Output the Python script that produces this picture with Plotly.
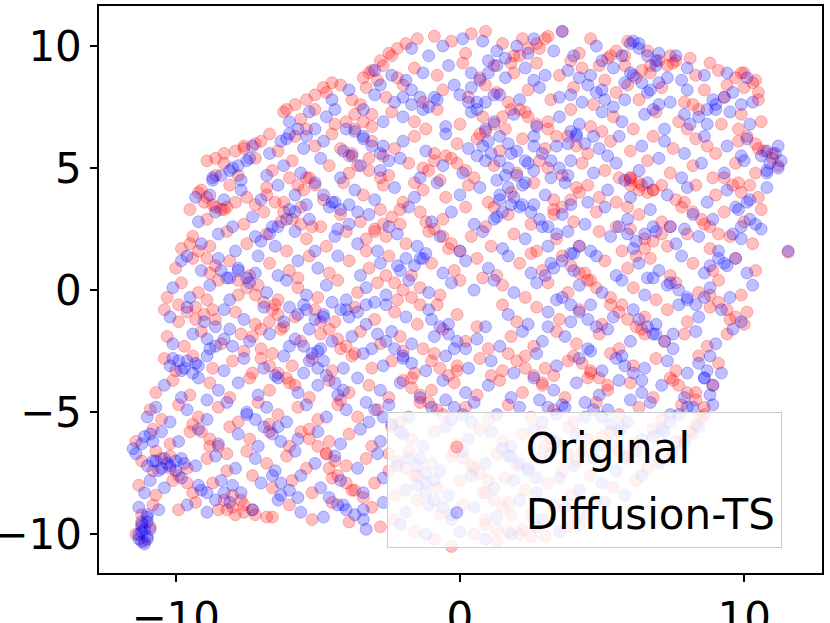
import plotly.graph_objects as go

# t-SNE embedding points read (approximately) from the reference picture
orig_points = [
    (-1.9,10.1),(-1.5,10.3),(-0.9,10.4),(-0.3,10.2),(0.4,10.5),(0.9,10.6),(1.5,10.1),(2.2,10.3),(2.8,9.9),(3.1,10.4),
    (4.6,10.3),(5.9,10.2),(6.6,9.8),(7.4,9.6),(-2.4,9.6),(0.2,9.7),(1.9,9.6),(4.2,9.7),(5.3,9.6),(8.1,9.5),(3.6,10.6),
    (-3.2,8.9),(-2.7,9.2),(-2.2,8.7),(-1.6,9.1),(-0.8,8.8),(0.1,9.3),(0.7,8.7),(1.2,9.2),(1.9,8.9),(2.7,9.3),
    (3.5,8.8),(4.3,9.1),(5.1,8.6),(5.8,9.2),(6.7,8.9),(7.5,9.3),(8.3,8.8),(9.1,9.0),(9.9,8.9),(10.4,8.6),
    (-2.9,8.6),(3.9,9.4),(6.2,8.7),(8.8,9.3),
    (-4.7,8.1),(-4.2,8.4),(-3.8,7.8),(-3.3,8.3),(-2.6,7.9),(-2.0,8.4),(-1.3,7.7),(-0.6,8.2),(0.3,7.9),(0.9,8.4),
    (1.7,7.7),(2.4,8.2),(3.2,7.8),(4.0,8.3),(4.7,7.6),(5.5,8.1),(6.3,7.8),(7.1,8.3),(7.9,7.7),(8.6,8.2),
    (9.3,7.9),(10.0,8.3),(10.5,7.8),(-3.5,7.6),(1.3,8.1),(5.9,8.4),(8.2,7.6),
    (-6.2,7.3),(-5.6,7.0),(-5.1,7.4),(-4.4,6.8),(-3.7,7.2),(-3.1,6.7),(-2.4,7.3),(-1.6,6.9),(-0.8,7.4),(0.0,6.8),
    (0.8,7.1),(1.6,6.6),(2.3,7.3),(3.1,6.9),(3.9,7.4),(4.6,6.7),(5.4,7.1),(6.1,6.6),(6.9,7.3),(7.7,6.9),
    (8.4,7.4),(9.2,6.8),(9.9,7.2),(10.6,6.9),(-5.4,6.6),(-1.2,6.6),(5.0,6.5),(8.0,6.6),
    (-7.6,5.8),(-7.0,6.1),(-6.4,5.7),(-5.8,6.3),(-5.1,5.9),(-4.5,6.4),(-3.8,5.6),(-3.1,6.1),(-2.3,5.8),(-1.6,6.3),
    (-0.9,5.6),(-0.1,6.0),(0.7,6.4),(1.4,5.7),(2.2,6.2),(3.0,5.8),(3.8,6.3),(4.5,5.6),(5.3,6.1),(6.0,5.7),
    (6.8,6.3),(7.5,5.8),(8.3,6.2),(9.0,5.6),(9.8,6.1),(10.5,5.8),(11.0,5.6),(-6.7,6.4),(-2.7,5.5),(4.1,5.9),(8.7,5.9),
    (-8.9,5.3),(-8.3,5.2),(-7.8,4.7),(-7.2,5.4),(-6.6,4.9),(-5.9,5.3),(-5.3,4.6),(-4.6,5.1),(-3.9,4.8),(-3.2,5.4),
    (-2.5,4.7),(-1.8,5.2),(-1.1,4.9),(-0.3,5.4),(0.5,4.6),(1.2,5.1),(2.0,4.8),(2.8,5.3),(3.6,4.7),(4.3,5.2),
    (5.1,4.9),(6.0,4.6),(6.6,5.3),(7.4,4.8),(8.2,5.1),(8.9,4.6),(9.7,5.2),(10.4,4.8),(11.2,5.1),(-8.6,4.7),
    (-0.7,4.5),(3.1,5.0),
    (-9.2,4.0),(-9.0,3.6),(-8.6,3.4),(-8.1,4.3),(-7.5,3.8),(-6.8,4.2),(-6.2,3.6),(-5.5,4.1),(-4.8,3.7),(-4.1,4.4),
    (-3.4,3.9),(-2.7,4.3),(-2.0,3.6),(-1.3,4.1),(-0.5,3.8),(0.3,4.3),(1.0,3.6),(1.8,4.0),(2.6,4.4),(3.3,3.7),
    (4.1,4.2),(4.9,3.8),(6.0,4.5),(6.8,4.1),(7.6,3.7),(8.3,4.3),(9.0,3.9),(9.8,4.4),(10.5,3.8),(-7.9,3.6),
    (-1.6,4.4),(5.5,3.6),(6.3,4.4),
    (-9.5,3.3),(-8.9,2.9),(-8.3,3.3),(-7.6,2.7),(-6.9,3.2),(-6.3,2.8),(-5.6,3.4),(-4.9,2.6),(-4.2,3.1),(-3.5,2.8),
    (-2.8,3.3),(-2.1,2.7),(-1.4,3.2),(-0.6,2.9),(0.2,3.4),(0.9,2.6),(1.7,3.1),(2.5,2.7),(3.3,3.3),(4.0,2.8),
    (4.8,3.2),(5.5,2.6),(6.3,3.1),(7.1,2.8),(7.8,3.4),(8.6,2.7),(9.3,3.2),(10.0,2.8),(10.6,3.3),(-7.2,3.5),
    (1.2,3.4),(5.9,3.4),
    (-9.8,1.7),(-9.4,2.2),(-8.8,1.8),(-8.2,2.4),(-7.5,1.9),(-6.8,2.3),(-6.1,1.6),(-5.4,2.1),(-4.7,1.8),(-4.0,2.4),
    (-3.3,1.6),(-2.6,2.2),(-1.9,1.9),(-1.1,2.4),(-0.4,1.7),(0.4,2.2),(1.1,1.8),(1.9,2.3),(2.7,1.6),(3.4,2.1),
    (4.2,1.8),(4.9,2.4),(5.7,1.6),(6.5,2.1),(7.3,1.8),(8.0,2.3),(8.8,1.7),(9.5,2.2),(10.3,1.9),(11.55,1.55),
    (-3.0,2.5),(6.0,2.5),
    (-10.0,0.9),(-9.4,1.3),(-8.8,0.7),(-8.1,1.2),(-7.4,0.6),(-6.7,1.1),(-6.0,0.8),(-5.3,1.4),(-4.6,0.7),(-3.9,1.2),
    (-3.2,0.9),(-2.5,1.4),(-1.7,0.6),(-1.0,1.1),(-0.2,0.8),(0.6,1.3),(1.3,0.6),(2.1,1.1),(2.9,0.8),(3.6,1.4),
    (4.4,0.7),(5.1,1.2),(5.9,0.9),(6.7,1.3),(7.4,0.6),(8.2,1.1),(8.9,0.8),(9.7,1.3),(10.4,0.8),(-5.7,0.5),(2.5,1.5),
    (-10.3,-0.3),(-9.8,0.3),(-9.2,-0.1),(-8.5,0.4),(-7.8,-0.2),(-7.1,0.2),(-6.4,-0.4),(-5.7,0.1),(-5.0,-0.3),(-4.3,0.4),
    (-3.6,-0.1),(-2.9,0.3),(-2.2,-0.4),(-1.4,0.1),(-0.7,-0.2),(0.0,0.4),(1.5,0.2),(2.3,-0.3),(3.1,0.3),(3.8,-0.1),
    (4.6,0.4),(5.3,-0.3),(6.1,0.1),(6.9,-0.4),(7.6,0.3),(8.4,-0.1),(9.1,0.4),(9.9,-0.2),(-8.9,-0.4),(0.8,0.5),
    (-10.4,-0.8),(-9.9,-1.3),(-9.3,-0.7),(-8.6,-1.2),(-7.9,-0.9),(-7.2,-1.4),(-6.5,-0.6),(-5.8,-1.1),(-5.1,-0.8),(-4.4,-1.3),
    (-3.7,-0.7),(-3.0,-1.2),(-2.3,-0.9),(-1.5,-1.4),(-0.8,-0.6),(-0.1,-1.0),(2.0,-1.3),(2.7,-0.7),(3.5,-1.2),(4.2,-0.8),
    (5.0,-1.4),(5.7,-0.6),(6.5,-1.1),(7.3,-0.8),(8.0,-1.3),(8.8,-0.7),(9.5,-1.2),(10.1,-0.9),(-6.2,-1.5),(1.5,-0.6),
    (-10.3,-1.9),(-9.7,-2.3),(-9.1,-1.7),(-8.4,-2.2),(-7.7,-1.8),(-7.0,-2.4),(-6.3,-1.6),(-5.6,-2.1),(-4.9,-1.8),(-4.2,-2.4),
    (-3.5,-1.7),(-2.8,-2.2),(-2.1,-1.9),(-1.3,-2.4),(-0.6,-1.6),(0.2,-2.1),(1.0,-2.4),(1.8,-1.9),(2.6,-2.3),(3.4,-1.7),
    (4.1,-2.2),(4.9,-1.8),(5.6,-2.4),(6.4,-1.6),(7.2,-2.1),(7.9,-1.8),(8.7,-2.3),(9.4,-1.8),(-2.0,-2.5),(0.6,-1.5),
    (-10.4,-2.8),(-10.0,-3.3),(-9.4,-2.7),(-8.7,-3.2),(-8.0,-2.9),(-7.3,-3.4),(-6.6,-2.6),(-5.9,-3.1),(-5.2,-2.8),(-4.5,-3.3),
    (-3.8,-2.7),(-3.1,-3.2),(-2.4,-2.9),(-1.6,-3.4),(-0.9,-2.6),(-0.1,-3.1),(0.7,-2.8),(1.5,-3.3),(2.3,-2.7),(3.0,-3.2),
    (3.8,-2.9),(4.6,-3.4),(5.3,-2.6),(6.1,-3.1),(6.9,-2.8),(7.6,-3.3),(8.4,-2.7),(9.1,-3.0),(-7.6,-2.5),(1.1,-3.5),
    (-10.7,-4.2),(-10.1,-3.7),(-9.5,-4.3),(-8.8,-3.8),(-8.1,-4.4),(-7.4,-3.6),(-6.7,-4.1),(-6.0,-3.8),(-5.3,-4.4),(-4.6,-3.7),
    (-3.9,-4.2),(-3.2,-3.9),(-2.5,-4.4),(-1.7,-3.6),(-1.0,-4.1),(-0.2,-3.8),(0.6,-4.3),(1.4,-3.7),(2.2,-4.2),(2.9,-3.9),
    (3.7,-4.4),(4.5,-3.6),(5.2,-4.1),(6.0,-3.8),(6.8,-4.4),(7.5,-3.7),(8.3,-4.2),(8.9,-3.9),(-4.2,-4.5),(3.3,-3.5),
    (-10.9,-4.9),(-10.5,-5.3),(-9.9,-4.7),(-9.2,-5.2),(-8.5,-4.8),(-7.8,-5.4),(-7.1,-4.6),(-6.4,-5.1),(-5.7,-4.8),(-5.0,-5.3),
    (-4.3,-4.7),(-3.6,-5.2),(-2.9,-4.9),(-2.1,-5.4),(-1.4,-4.6),(-0.6,-5.1),(0.2,-4.8),(1.0,-5.3),(1.7,-4.7),(2.5,-5.2),
    (3.3,-4.9),(4.0,-5.4),(4.8,-4.6),(5.6,-5.1),(6.3,-4.8),(7.1,-5.3),(7.8,-4.7),(8.6,-5.1),(-6.7,-5.5),
    (-11.4,-6.2),(-10.8,-5.7),(-10.2,-6.3),(-9.5,-5.8),(-8.8,-6.4),(-8.1,-5.6),(-7.4,-6.1),(-6.7,-5.8),(-6.0,-6.4),(-5.3,-5.7),
    (-4.6,-6.2),(-3.9,-5.9),(-3.1,-6.4),(-2.4,-5.6),(-1.7,-6.1),(-0.9,-5.8),(-0.1,-6.3),(0.7,-5.7),(1.5,-6.2),(2.2,-5.9),
    (3.0,-6.4),(3.8,-5.6),(4.5,-6.1),(5.3,-5.8),(6.1,-6.3),(6.8,-5.7),(7.6,-6.2),(8.2,-5.9),
    (-11.2,-7.0),(-10.8,-7.4),(-10.2,-6.8),(-9.6,-7.3),(-8.9,-6.9),(-8.2,-7.4),(-7.5,-6.6),(-6.8,-7.1),(-6.1,-6.8),(-5.4,-7.3),
    (-4.7,-6.7),(-4.0,-7.2),(-3.3,-6.9),(-2.5,-7.4),(-1.8,-6.6),(-1.0,-7.1),(-0.3,-6.8),(0.5,-7.3),(1.3,-6.7),(2.0,-7.2),
    (2.8,-6.9),(3.6,-7.4),(4.3,-6.6),(5.1,-7.1),(5.9,-6.8),(6.6,-7.3),(7.4,-6.9),
    (-11.3,-8.0),(-10.7,-8.4),(-10.1,-7.8),(-9.4,-8.3),(-8.7,-7.9),(-8.0,-8.4),(-7.3,-7.6),(-6.6,-8.1),(-5.9,-7.8),(-5.2,-8.3),
    (-4.5,-7.7),(-3.8,-8.2),(-3.0,-7.9),(-2.3,-8.4),(-1.5,-7.6),(-0.8,-8.1),(0.0,-7.8),(0.8,-8.3),(1.6,-7.7),(2.3,-8.2),
    (3.1,-7.9),(3.9,-8.4),(4.6,-7.6),(5.4,-8.1),(6.2,-7.8),
    (-11.2,-9.2),(-10.8,-8.8),(-9.9,-9.0),(-9.3,-8.7),(-8.5,-9.0),(-7.7,-8.6),(-6.6,-9.3),(-6.0,-8.8),(-5.2,-9.4),(-4.5,-8.7),
    (-3.9,-9.5),(-3.1,-8.9),(-2.3,-9.4),(-1.5,-8.6),(-0.7,-9.2),(0.1,-8.8),(0.9,-9.4),(1.7,-8.7),(2.5,-9.2),(3.3,-8.8),
    (4.1,-9.3),(4.8,-8.6),
    (-11.4,-10.0),(-11.1,-10.3),(-10.9,-9.7),(-11.2,-9.6),(-2.8,-9.7),(-1.6,-9.9),(-0.9,-10.2),(-0.3,-10.5),(0.5,-10.0),(1.3,-10.3),
    (2.2,-9.8),(3.0,-10.1),(3.8,-9.7),(4.2,-9.6),
]

# small worm-like clumps of the Original series
orig_clumps = [
    (-9.1,4.1),(-8.9,3.8),(-8.7,3.5),(-8.4,3.3),(-8.2,3.4),
    (-8.6,5.4),(-8.3,5.6),(-7.9,5.7),(-7.6,5.9),(-7.2,6.0),
    (-6.1,7.4),(-5.8,7.6),(-5.4,7.8),(-5.1,8.0),(-4.8,8.3),(-4.5,8.5),
    (-3.4,8.7),(-3.1,9.0),(-2.8,9.4),(-2.5,9.7),(-2.2,9.9),
    (-6.8,3.9),(-6.5,3.6),(-6.2,3.2),(-5.9,2.9),(-5.6,2.7),(-5.2,2.6),
    (-4.2,5.8),(-3.9,5.5),(-3.6,5.1),(-3.2,4.9),(-2.8,4.6),
    (-1.3,5.0),(-0.9,5.3),(-0.5,5.5),(-0.1,5.2),(0.2,4.9),
    (2.1,7.4),(2.4,7.1),(2.7,6.8),(3.1,6.6),(3.4,6.3),
    (5.6,4.6),(6.0,4.6),(6.4,4.3),(6.8,4.1),(7.1,4.3),
    (7.9,3.6),(8.2,3.2),(8.5,2.9),(8.8,2.6),(9.1,2.3),
    (9.8,6.6),(10.1,6.3),(10.4,6.0),(10.7,5.7),(11.0,5.4),
    (9.4,8.4),(9.7,8.7),(10.0,8.9),(10.3,8.5),(10.5,8.1),
    (-9.9,-0.6),(-9.6,-0.9),(-9.3,-1.2),(-9.0,-1.0),(-8.7,-0.8),
    (-7.0,-2.8),(-6.7,-3.1),(-6.4,-3.4),(-6.1,-3.6),(-5.8,-3.9),
    (-4.9,-1.3),(-4.6,-1.6),(-4.3,-2.0),(-4.0,-2.3),(-3.7,-2.6),
    (-2.0,-3.7),(-1.7,-4.0),(-1.4,-4.3),(-1.1,-4.6),(-0.8,-4.9),
    (1.7,-2.6),(2.0,-2.9),(2.3,-3.2),(2.6,-3.5),(2.9,-3.8),
    (5.3,-0.6),(5.6,-0.9),(5.9,-1.2),(6.2,-1.5),(6.5,-1.8),
    (7.4,-3.6),(7.7,-3.9),(8.0,-4.2),(8.3,-4.5),(8.6,-4.8),
    (-10.7,-6.6),(-10.5,-6.9),(-10.2,-7.3),(-9.9,-7.6),(-9.6,-7.9),
    (-8.3,-8.6),(-8.0,-8.9),(-7.6,-9.1),(-7.2,-9.2),(-6.8,-9.3),
    (-4.6,-7.3),(-4.3,-7.6),(-4.0,-7.9),(-3.7,-8.2),(-3.4,-8.5),
    (-0.2,-6.6),(0.1,-6.9),(0.4,-7.2),(0.7,-7.5),(1.0,-7.8),
    (2.9,-5.8),(3.2,-6.1),(3.5,-6.4),(3.8,-6.7),(4.1,-7.0),
    (0.9,-9.6),(1.3,-9.8),(1.7,-9.9),(2.1,-10.0),(2.5,-10.1),
    (-1.2,2.8),(-0.9,2.5),(-0.6,2.2),(-0.3,1.9),(0.0,1.6),
    (3.3,3.1),(3.6,3.4),(3.9,3.7),(4.2,4.0),(4.5,4.3),
    (-2.6,0.6),(-2.3,0.3),(-2.0,0.0),(-1.7,-0.3),(-1.4,-0.6),
    (1.8,9.3),(2.1,9.6),(2.4,9.9),(2.7,10.1),(3.0,10.3),
    (6.4,9.0),(6.7,9.2),(7.0,9.4),(7.3,9.2),(7.6,9.4),
    (-7.8,0.4),(-7.5,0.1),(-7.2,-0.2),(-6.9,-0.5),(-6.6,-0.8),
    (4.0,-2.7),(4.3,-3.0),(4.6,-3.3),(4.9,-3.6),(5.2,-3.9),
    (-9.4,-5.5),(-9.1,-5.8),(-8.8,-6.1),(-8.5,-6.4),(-8.2,-6.7),
    (6.2,1.4),(6.5,1.7),(6.8,2.0),(7.1,2.3),(7.4,2.6),
    (-3.3,2.1),(-3.0,2.4),(-2.7,2.7),(-2.4,3.0),(-2.1,3.3),
    (0.6,6.2),(0.9,6.5),(1.2,6.8),(1.5,7.1),(1.8,7.4),
    (-5.6,-5.8),(-5.3,-6.1),(-5.0,-6.4),(-4.7,-6.7),(-4.4,-7.0),
    (8.8,-0.2),(9.1,-0.5),(9.4,-0.8),(9.7,-1.1),(10.0,-1.4),
    (-8.2,-9.0),(-7.9,-9.2),(-7.6,-8.8),(-7.3,-9.0),
    (6.0,4.3),(6.3,4.1),(6.6,4.0),
    (-1.0,-2.9),(-0.7,-3.2),(-0.4,-3.5),(-0.1,-3.3),
    (-6.0,4.6),(-5.7,4.3),(-5.4,4.6),(-5.1,4.3),
    (3.9,1.0),(4.2,0.7),(4.5,0.4),(4.8,0.1),
    (7.9,-6.1),(8.1,-5.8),(8.3,-5.5),(8.5,-5.2),
    (-8.6,1.0),(-8.9,1.3),(-9.2,1.6),(-9.5,1.9),
    (0.9,-8.3),(1.2,-8.6),(1.5,-8.9),(1.8,-9.2),
    (5.0,-6.0),(5.3,-6.3),(5.6,-6.6),(5.9,-6.9),
    (-2.5,-6.7),(-2.2,-7.0),(-1.9,-7.3),(-1.6,-7.6),
    (9.3,4.6),(9.6,4.3),(9.9,4.0),(10.2,4.3),
    (-4.0,6.9),(-3.7,6.6),(-3.4,6.9),(-3.1,7.2),
    (4.9,9.2),(5.2,9.5),(5.5,9.8),(5.8,9.6),
    (-7.3,-1.9),(-7.0,-1.6),(-6.7,-1.3),(-6.4,-1.0),
]

diff_points = [
    (-1.7,9.9),(-0.6,10.0),(0.1,10.3),(0.8,10.2),(1.3,9.8),(2.0,10.0),(2.6,10.3),(3.6,10.6),(3.3,9.8),(4.8,10.0),
    (6.1,10.2),(6.3,10.1),(7.0,9.7),(7.6,9.6),(5.7,9.6),(-1.1,9.6),(2.4,9.7),(4.0,9.6),
    (-3.0,9.0),(-2.4,8.8),(-1.3,8.9),(-0.4,9.2),(0.4,8.9),(1.0,9.4),(1.6,8.7),(2.3,9.1),(3.0,8.8),(3.8,9.0),
    (4.6,8.8),(5.4,9.1),(6.0,8.9),(6.9,9.2),(7.3,8.7),(8.0,9.1),(8.6,8.8),(9.4,8.9),(10.1,8.7),(-1.9,8.6),
    (2.6,8.6),(5.0,9.4),(7.8,8.6),
    (-4.5,7.8),(-3.9,8.2),(-3.0,8.0),(-2.3,7.7),(-1.7,8.2),(-0.9,7.9),(-0.2,8.4),(0.6,7.7),(1.4,8.0),(2.1,7.8),
    (2.8,8.3),(3.5,7.9),(4.3,7.7),(5.0,8.2),(5.8,7.8),(6.6,8.1),(7.4,7.7),(8.0,8.2),(8.9,7.8),(9.6,8.1),
    (10.3,7.7),(-2.8,8.4),(3.9,8.0),(7.0,7.6),(9.9,7.6),
    (-6.0,6.9),(-5.3,7.3),(-4.7,7.1),(-4.0,6.6),(-3.4,7.4),(-2.7,6.9),(-2.0,7.1),(-1.3,7.4),(-0.5,6.7),(0.4,7.3),
    (1.2,6.9),(1.9,7.2),(2.7,6.7),(3.5,7.1),(4.2,6.8),(5.0,7.3),(5.7,6.9),(6.5,7.2),(7.2,6.6),(7.9,7.2),
    (8.7,6.8),(9.5,7.3),(10.2,6.8),(-4.4,7.4),(0.9,6.6),(3.9,6.5),(6.8,7.4),(9.0,7.4),
    (-7.3,5.9),(-6.7,5.6),(-6.1,6.2),(-5.5,5.8),(-4.8,6.1),(-4.1,5.7),(-3.4,6.3),(-2.7,5.9),(-2.0,6.1),(-1.2,5.7),
    (-0.5,6.4),(0.3,5.8),(1.0,6.1),(1.8,5.6),(2.6,6.3),(3.4,5.9),(4.1,6.4),(4.9,5.8),(5.6,6.3),(6.4,5.9),
    (7.2,6.1),(7.9,5.6),(8.6,6.3),(9.4,5.9),(10.1,6.2),(10.8,5.7),(11.2,5.9),(-3.8,5.5),(0.6,5.5),(5.2,5.5),(9.9,5.5),
    (-8.7,4.6),(-8.0,5.0),(-7.4,5.4),(-6.8,4.7),(-6.2,5.1),(-5.6,4.8),(-4.9,5.4),(-4.2,4.6),(-3.5,5.1),(-2.8,4.9),
    (-2.1,5.4),(-1.4,4.6),(-0.6,5.1),(0.1,4.8),(0.9,5.3),(1.6,4.7),(2.4,5.2),(3.2,4.6),(3.9,5.3),(4.7,4.8),
    (5.5,5.2),(6.3,4.9),(7.0,5.4),(7.8,4.6),(8.5,5.2),(9.3,4.8),(10.0,5.3),(10.8,4.9),(11.3,5.3),(-7.7,4.5),
    (1.3,4.5),(5.8,4.5),
    (-9.3,3.8),(-8.8,3.9),(-8.3,3.7),(-7.7,4.1),(-7.0,3.7),(-6.4,4.3),(-5.8,3.9),(-5.1,4.4),(-4.4,3.6),(-3.7,4.1),
    (-3.0,3.7),(-2.3,4.2),(-1.6,3.8),(-0.8,4.4),(0.0,3.9),(0.7,4.2),(1.4,3.7),(2.2,4.3),(3.0,3.9),(3.7,4.4),
    (4.5,3.6),(5.2,4.1),(6.0,3.8),(6.6,4.4),(7.3,3.9),(8.0,4.2),(8.7,3.6),(9.4,4.1),(10.2,3.7),(10.8,4.2),
    (-5.4,3.5),(2.6,3.5),
    (-9.2,2.8),(-8.6,3.2),(-8.0,2.6),(-7.3,3.0),(-6.6,2.6),(-6.0,3.3),(-5.3,2.9),(-4.6,3.4),(-3.9,2.7),(-3.2,3.1),
    (-2.5,2.6),(-1.8,3.4),(-1.0,2.8),(-0.3,3.2),(0.5,2.7),(1.3,3.0),(2.1,3.4),(2.9,2.6),(3.6,3.1),(4.4,2.7),
    (5.1,3.4),(5.9,2.9),(6.7,3.3),(7.4,2.6),(8.2,3.1),(8.9,2.9),(9.7,3.4),(10.4,2.7),(-4.3,2.5),(3.9,3.5),(7.9,2.5),
    (-9.6,1.4),(-9.1,1.9),(-8.5,2.3),(-7.9,1.6),(-7.2,2.2),(-6.5,1.8),(-5.8,2.4),(-5.1,1.6),(-4.4,2.2),(-3.6,1.9),
    (-2.9,1.6),(-2.2,2.3),(-1.5,1.8),(-0.7,2.2),(0.0,1.6),(0.8,2.4),(1.5,1.7),(2.3,2.1),(3.1,1.8),(3.8,2.4),
    (4.6,1.6),(5.3,2.2),(6.1,1.7),(6.9,2.4),(7.6,1.9),(8.4,2.2),(9.1,1.6),(9.9,2.1),(10.6,2.5),(11.55,1.6),
    (-1.2,1.5),(4.0,1.5),
    (-9.8,1.2),(-9.1,0.8),(-8.5,1.3),(-7.8,0.9),(-7.1,1.4),(-6.4,0.6),(-5.7,1.2),(-5.0,0.9),(-4.3,1.4),(-3.5,0.6),
    (-2.8,1.1),(-2.1,0.8),(-1.4,1.3),(-0.6,0.7),(0.2,1.2),(1.0,0.9),(1.7,1.4),(2.5,0.7),(3.2,1.1),(4.0,0.8),
    (4.8,1.4),(5.5,0.6),(6.3,1.1),(7.0,0.8),(7.8,1.4),(8.6,0.7),(9.3,1.1),(10.1,0.7),(-8.2,0.5),(6.6,0.5),
    (-10.1,0.1),(-9.5,-0.3),(-8.8,0.2),(-8.1,-0.4),(-7.4,0.3),(-6.8,-0.1),(-6.1,0.4),(-5.4,-0.2),(-4.7,0.2),(-4.0,-0.4),
    (-3.3,0.1),(-2.6,-0.2),(-1.8,0.4),(-1.1,-0.1),(-0.3,0.3),(0.5,0.0),(1.2,0.4),(1.9,-0.1),(2.7,0.3),(3.4,-0.4),
    (4.2,0.2),(5.0,-0.1),(5.7,0.4),(6.5,-0.2),(7.3,0.2),(8.0,-0.4),(8.8,0.1),(9.5,-0.3),(10.3,0.2),(-3.0,-0.5),(6.8,0.5),
    (-10.2,-1.1),(-9.6,-0.7),(-9.0,-1.3),(-8.3,-0.8),(-7.6,-1.2),(-6.9,-0.7),(-6.2,-1.3),(-5.5,-0.6),(-4.8,-1.1),(-4.0,-0.8),
    (-3.3,-1.4),(-2.6,-0.6),(-1.9,-1.1),(-1.1,-0.8),(-0.4,-1.4),(1.7,-1.0),(2.4,-1.4),(3.1,-0.9),(3.9,-1.3),(4.6,-0.6),
    (5.4,-1.1),(6.1,-0.8),(6.9,-1.4),(7.7,-0.6),(8.4,-1.1),(9.2,-0.8),(9.9,-1.3),(-8.6,-1.5),(0.9,-1.5),
    (-10.1,-2.2),(-9.4,-1.8),(-8.8,-2.4),(-8.1,-1.6),(-7.4,-2.1),(-6.7,-1.8),(-6.0,-2.3),(-5.3,-1.6),(-4.5,-2.1),(-3.8,-1.9),
    (-3.1,-2.4),(-2.4,-1.7),(-1.7,-2.2),(-0.9,-1.9),(-0.2,-2.4),(0.6,-2.0),(1.4,-2.3),(2.2,-1.7),(2.9,-2.1),(3.7,-1.9),
    (4.5,-2.4),(5.2,-1.6),(6.0,-2.1),(6.8,-1.8),(7.5,-2.4),(8.3,-1.7),(9.0,-2.2),(9.6,-1.6),(-5.0,-2.5),(3.1,-1.5),
    (-10.2,-3.1),(-9.9,-2.9),(-9.7,-3.2),(-9.3,-3.0),(-8.9,-2.7),(-8.3,-3.3),(-7.6,-2.8),(-6.9,-3.2),(-6.2,-2.7),(-5.5,-3.4),
    (-4.8,-2.9),(-4.1,-3.2),(-3.4,-2.6),(-2.7,-3.1),(-2.0,-2.8),(-1.2,-3.3),(-0.5,-2.7),(0.3,-3.2),(1.1,-2.9),(1.9,-3.4),
    (2.7,-2.6),(3.4,-3.1),(4.2,-2.8),(5.0,-3.3),(5.7,-2.7),(6.5,-3.2),(7.3,-2.9),(8.0,-3.4),(8.8,-2.7),(9.2,-3.4),
    (-6.5,-3.5),(4.6,-2.5),
    (-10.4,-3.9),(-9.8,-4.4),(-9.2,-3.6),(-8.5,-4.1),(-7.8,-3.8),(-7.1,-4.3),(-6.4,-3.6),(-5.7,-4.2),(-5.0,-3.9),(-4.3,-4.3),
    (-3.6,-3.6),(-2.8,-4.1),(-2.1,-3.8),(-1.4,-4.4),(-0.6,-3.7),(0.2,-4.2),(1.0,-3.9),(1.8,-4.4),(2.6,-3.6),(3.3,-4.1),
    (4.1,-3.8),(4.9,-4.3),(5.6,-3.7),(6.4,-4.2),(7.1,-3.9),(7.9,-4.4),(8.6,-3.6),(-8.9,-4.5),(6.0,-4.5),
    (-11.0,-5.2),(-10.7,-4.8),(-10.2,-5.4),(-9.6,-4.9),(-8.9,-5.3),(-8.2,-4.6),(-7.5,-5.1),(-6.8,-4.8),(-6.1,-5.4),(-5.4,-4.7),
    (-4.7,-5.2),(-4.0,-4.9),(-3.2,-5.4),(-2.5,-4.7),(-1.8,-5.2),(-1.0,-4.8),(-0.3,-5.3),(0.5,-4.6),(1.3,-5.1),(2.1,-4.8),
    (2.9,-5.4),(3.6,-4.7),(4.4,-5.2),(5.2,-4.9),(5.9,-5.4),(6.7,-4.6),(7.4,-5.1),(8.2,-4.8),(8.9,-4.7),
    (-11.5,-6.5),(-11.1,-6.0),(-10.5,-5.8),(-9.9,-6.2),(-9.2,-5.7),(-8.5,-6.3),(-7.8,-5.9),(-7.1,-6.4),(-6.4,-5.6),(-5.7,-6.1),
    (-5.0,-5.8),(-4.2,-6.3),(-3.5,-5.7),(-2.8,-6.2),(-2.0,-5.9),(-1.3,-6.4),(-0.5,-5.6),(0.3,-6.1),(1.1,-5.8),(1.8,-6.4),
    (2.6,-5.7),(3.4,-6.2),(4.1,-5.9),(4.9,-6.4),(5.7,-5.6),(6.4,-6.1),(7.2,-5.8),(7.9,-6.3),(8.4,-5.6),
    (-11.0,-7.2),(-10.7,-7.0),(-10.5,-7.3),(-10.3,-7.1),(-10.0,-7.4),(-9.8,-6.9),(-9.3,-7.2),(-8.6,-6.8),(-7.9,-7.3),(-7.2,-6.9),
    (-6.5,-7.4),(-5.8,-6.6),(-5.1,-7.1),(-4.4,-6.8),(-3.6,-7.3),(-2.9,-6.7),(-2.2,-7.2),(-1.4,-6.9),(-0.7,-7.4),(0.1,-6.6),
    (0.9,-7.1),(1.7,-6.8),(2.4,-7.3),(3.2,-6.7),(4.0,-7.2),(4.7,-6.9),(5.5,-7.4),(6.2,-6.6),(7.0,-7.1),(7.5,-6.6),
    (-11.1,-8.3),(-10.9,-7.8),(-10.4,-8.1),(-9.8,-7.7),(-9.1,-8.2),(-8.4,-7.8),(-7.7,-8.3),(-7.0,-7.9),(-6.3,-8.4),(-5.6,-7.6),
    (-4.9,-8.1),(-4.2,-7.8),(-3.4,-8.3),(-2.7,-7.7),(-1.9,-8.2),(-1.2,-7.9),(-0.4,-8.4),(0.4,-7.6),(1.2,-8.1),(1.9,-7.8),
    (2.7,-8.3),(3.5,-7.7),(4.2,-8.2),(5.0,-7.9),(5.8,-8.4),(6.4,-7.6),
    (-11.3,-8.9),(-11.0,-9.3),(-10.6,-9.0),(-9.6,-8.8),(-8.9,-9.1),(-8.1,-8.7),(-7.3,-9.0),(-6.4,-8.6),(-5.6,-9.1),(-4.8,-9.3),
    (-4.1,-8.8),(-3.4,-9.4),(-2.7,-8.7),(-1.9,-9.1),(-1.1,-8.8),(-0.3,-9.4),(0.5,-8.9),(1.3,-9.3),(2.1,-8.6),(2.9,-9.4),
    (3.7,-8.9),(4.5,-9.2),(5.1,-8.7),
    (-11.3,-10.2),(-11.2,-9.9),(-11.0,-10.1),(-11.1,-10.4),(-10.9,-9.8),(-11.2,-9.7),(-11.0,-9.5),(-3.3,-9.8),(-2.1,-9.6),(-1.2,-10.0),
    (0.0,-9.9),(0.9,-10.2),(1.8,-10.0),(2.7,-9.7),(3.5,-9.9),
]

# small worm-like clumps of the Diffusion-TS series
diff_clumps = [
    (-11.3,-10.0),(-11.2,-10.3),(-11.1,-9.8),(-11.0,-10.2),(-11.2,-9.5),(-11.0,-9.2),
    (-10.8,-7.0),(-10.6,-7.4),(-10.4,-6.9),(-10.2,-7.2),(-10.0,-7.0),(-9.7,-7.1),
    (-10.1,-2.8),(-9.8,-3.3),(-9.6,-2.9),(-9.4,-3.4),(-9.2,-3.1),
    (-8.4,0.8),(-8.1,0.5),(-7.8,0.8),(-7.5,0.5),(-7.2,0.7),
    (-6.0,-0.7),(-5.7,-1.0),(-5.4,-0.8),(-5.1,-1.2),(-4.8,-1.0),
    (-4.8,3.9),(-4.5,3.6),(-4.2,3.3),(-3.9,3.5),(-3.6,3.2),
    (-6.3,6.1),(-6.0,6.4),(-5.7,6.6),(-5.4,6.3),(-5.1,6.6),
    (-2.0,7.9),(-1.7,7.6),(-1.4,7.9),(-1.1,7.5),(-0.8,7.8),
    (0.8,5.9),(1.1,5.6),(1.4,5.3),(1.7,5.0),(2.0,4.7),(2.3,4.4),
    (1.9,3.8),(2.2,3.5),(2.5,3.2),(2.8,2.9),(3.1,2.6),(3.4,2.3),
    (4.2,8.7),(4.5,8.4),(4.8,8.1),(5.1,7.8),(5.4,7.5),
    (6.0,10.1),(6.3,9.9),(6.6,9.6),(6.9,9.4),
    (8.1,6.8),(8.4,7.1),(8.7,7.4),(9.0,7.6),(9.3,7.9),
    (10.6,5.5),(10.9,5.2),(11.1,5.6),(11.2,5.0),(10.8,4.8),
    (5.6,2.6),(5.9,2.3),(6.2,2.0),(6.5,2.3),(6.8,2.6),
    (7.4,0.3),(7.7,0.0),(8.0,-0.3),(8.3,-0.6),(8.6,-0.3),
    (8.4,-3.0),(8.7,-3.3),(8.6,-3.6),(8.9,-3.9),(8.8,-4.3),
    (3.6,-0.3),(3.9,-0.6),(4.2,-0.9),(4.5,-1.2),(4.8,-1.5),
    (-1.0,-1.2),(-0.7,-1.5),(-0.4,-1.8),(-0.1,-2.1),(0.2,-2.4),
    (-3.3,-4.6),(-3.0,-4.9),(-2.7,-5.2),(-2.4,-5.5),(-2.1,-5.8),
    (-7.5,-5.0),(-7.2,-5.3),(-6.9,-5.6),(-6.6,-5.9),(-6.3,-6.2),
    (-4.6,-8.5),(-4.3,-8.8),(-4.0,-9.0),(-3.7,-9.2),(-3.4,-9.0),
    (-9.2,-8.0),(-8.9,-8.3),(-8.6,-8.6),(-8.3,-8.3),(-8.0,-8.0),
    (1.5,-6.5),(1.8,-6.8),(2.1,-7.1),(2.4,-7.4),(2.7,-7.7),
    (4.4,-4.6),(4.7,-4.9),(5.0,-5.2),(5.3,-5.5),(5.6,-5.8),
    (-1.5,-8.0),(-1.2,-8.3),(-0.9,-8.6),(-0.6,-8.9),(-0.3,-9.2),
    (-7.0,2.0),(-6.7,2.3),(-6.4,2.6),(-6.1,2.9),(-5.8,3.2),
    (-2.9,-1.8),(-2.6,-2.1),(-2.3,-2.4),(-2.0,-2.7),(-1.7,-3.0),
    (0.4,8.3),(0.7,8.6),(1.0,8.9),(1.3,9.2),(1.6,9.5),
    (-8.7,4.5),(-8.4,4.7),(-8.1,4.9),(-7.8,5.1),(-7.5,5.3),
    (3.0,0.6),(3.3,0.9),(3.6,1.2),(3.9,1.5),(4.2,1.8),
    (-5.3,-2.9),(-5.0,-3.2),(-4.7,-3.5),(-4.4,-3.8),(-4.1,-4.1),
    (9.6,2.3),(9.9,2.6),(10.2,2.9),(9.8,3.3),(10.1,3.6),
    (-10.9,-5.9),(-11.2,-6.3),(-11.4,-6.7),(-10.8,-6.2),
    (6.8,-6.0),(7.1,-5.7),(7.4,-5.4),(7.7,-5.1),(8.0,-4.8),
    (-1.8,-6.9),(-1.5,-7.2),(-1.2,-7.5),(-0.9,-7.8),
    (2.6,5.9),(2.9,5.6),(3.2,5.3),(3.5,5.0),(3.8,4.7),
    (-3.7,6.5),(-3.4,6.2),(-3.1,5.9),(-2.8,5.6),(-2.5,5.3),
    (1.2,2.9),(1.5,3.2),(1.8,3.5),(1.4,3.9),(1.7,4.2),
    (2.6,4.9),(2.3,5.3),(2.0,5.7),(1.7,6.0),(1.4,6.3),
    (-4.5,-0.5),(-4.2,-0.8),(-3.9,-1.1),(-3.6,-0.9),(-3.3,-0.6),
    (-5.8,-2.0),(-5.5,-2.3),(-5.2,-2.6),(-4.9,-2.4),
    (6.3,-1.2),(6.6,-1.5),(6.9,-1.8),(7.2,-2.1),(7.5,-1.8),
    (5.5,-2.8),(5.8,-3.1),(6.1,-3.4),(6.4,-3.7),
    (0.0,8.0),(0.3,7.7),(0.6,7.4),(0.9,7.7),(1.2,8.0),
    (5.8,8.5),(6.1,8.8),(6.4,8.5),(6.7,8.2),(7.0,8.5),
    (-0.5,-4.5),(-0.2,-4.8),(0.1,-5.1),(0.4,-5.4),
    (-8.9,-2.0),(-8.6,-2.3),(-8.3,-2.0),(-8.0,-2.3),
    (-2.2,1.0),(-1.9,1.3),(-1.6,1.0),(-1.3,1.3),
    (3.8,6.0),(4.1,6.3),(4.4,6.0),(4.7,6.3),
    (8.8,1.0),(9.1,1.3),(9.4,1.0),(9.7,1.3),
    (-6.6,-7.6),(-6.3,-7.9),(-6.0,-8.2),(-5.7,-8.5),
    (2.8,-4.5),(3.1,-4.8),(3.4,-5.1),(3.7,-4.8),
]

series_names = ["Original", "Diffusion-TS"]
x_ticks = [-10, 0, 10]
y_ticks = [-10, -5, 0, 5, 10]

orig_all = orig_points + orig_clumps
diff_all = diff_points + diff_clumps
orig_x = [p[0] for p in orig_all]
orig_y = [p[1] for p in orig_all]
diff_x = [p[0] for p in diff_all]
diff_y = [p[1] for p in diff_all]

RED = "rgba(255,0,0,0.25)"
BLUE = "rgba(0,0,255,0.25)"

fig = go.Figure()
fig.add_trace(go.Scatter(
    x=orig_x, y=orig_y, mode="markers", name=series_names[0], legendgroup="a",
    marker=dict(size=12, color=RED, line=dict(width=1, color=RED)),
))
fig.add_trace(go.Scatter(
    x=diff_x, y=diff_y, mode="markers", name=series_names[1], legendgroup="b",
    marker=dict(size=12, color=BLUE, line=dict(width=1, color=BLUE)),
))

axis_common = dict(
    showgrid=False, zeroline=False, showline=True, linecolor="black", linewidth=1.5,
    mirror=True, ticks="outside", ticklen=7, tickwidth=1.5, tickcolor="black",
    tickfont=dict(size=42, color="black", family="DejaVu Sans"), automargin=False,
)
fig.update_xaxes(range=[-12.7, 12.74], tickvals=x_ticks, **axis_common)
fig.update_yaxes(range=[-11.59, 11.64], tickvals=y_ticks, **axis_common)

fig.update_layout(
    width=830, height=623,
    margin=dict(l=99, r=8, t=6, b=50),
    paper_bgcolor="white", plot_bgcolor="white",
    showlegend=True,
    legend=dict(
        x=0.398, y=0.2836, xanchor="left", yanchor="top",
        bgcolor="rgba(255,255,255,0.8)", bordercolor="#cccccc", borderwidth=1,
        font=dict(size=42, color="black", family="DejaVu Sans"),
        itemwidth=128, tracegroupgap=8,
    ),
    font=dict(family="DejaVu Sans"),
)

fig.write_html("out.html", config={"displayModeBar": False},
               post_script="document.body.style.margin='0px';")
